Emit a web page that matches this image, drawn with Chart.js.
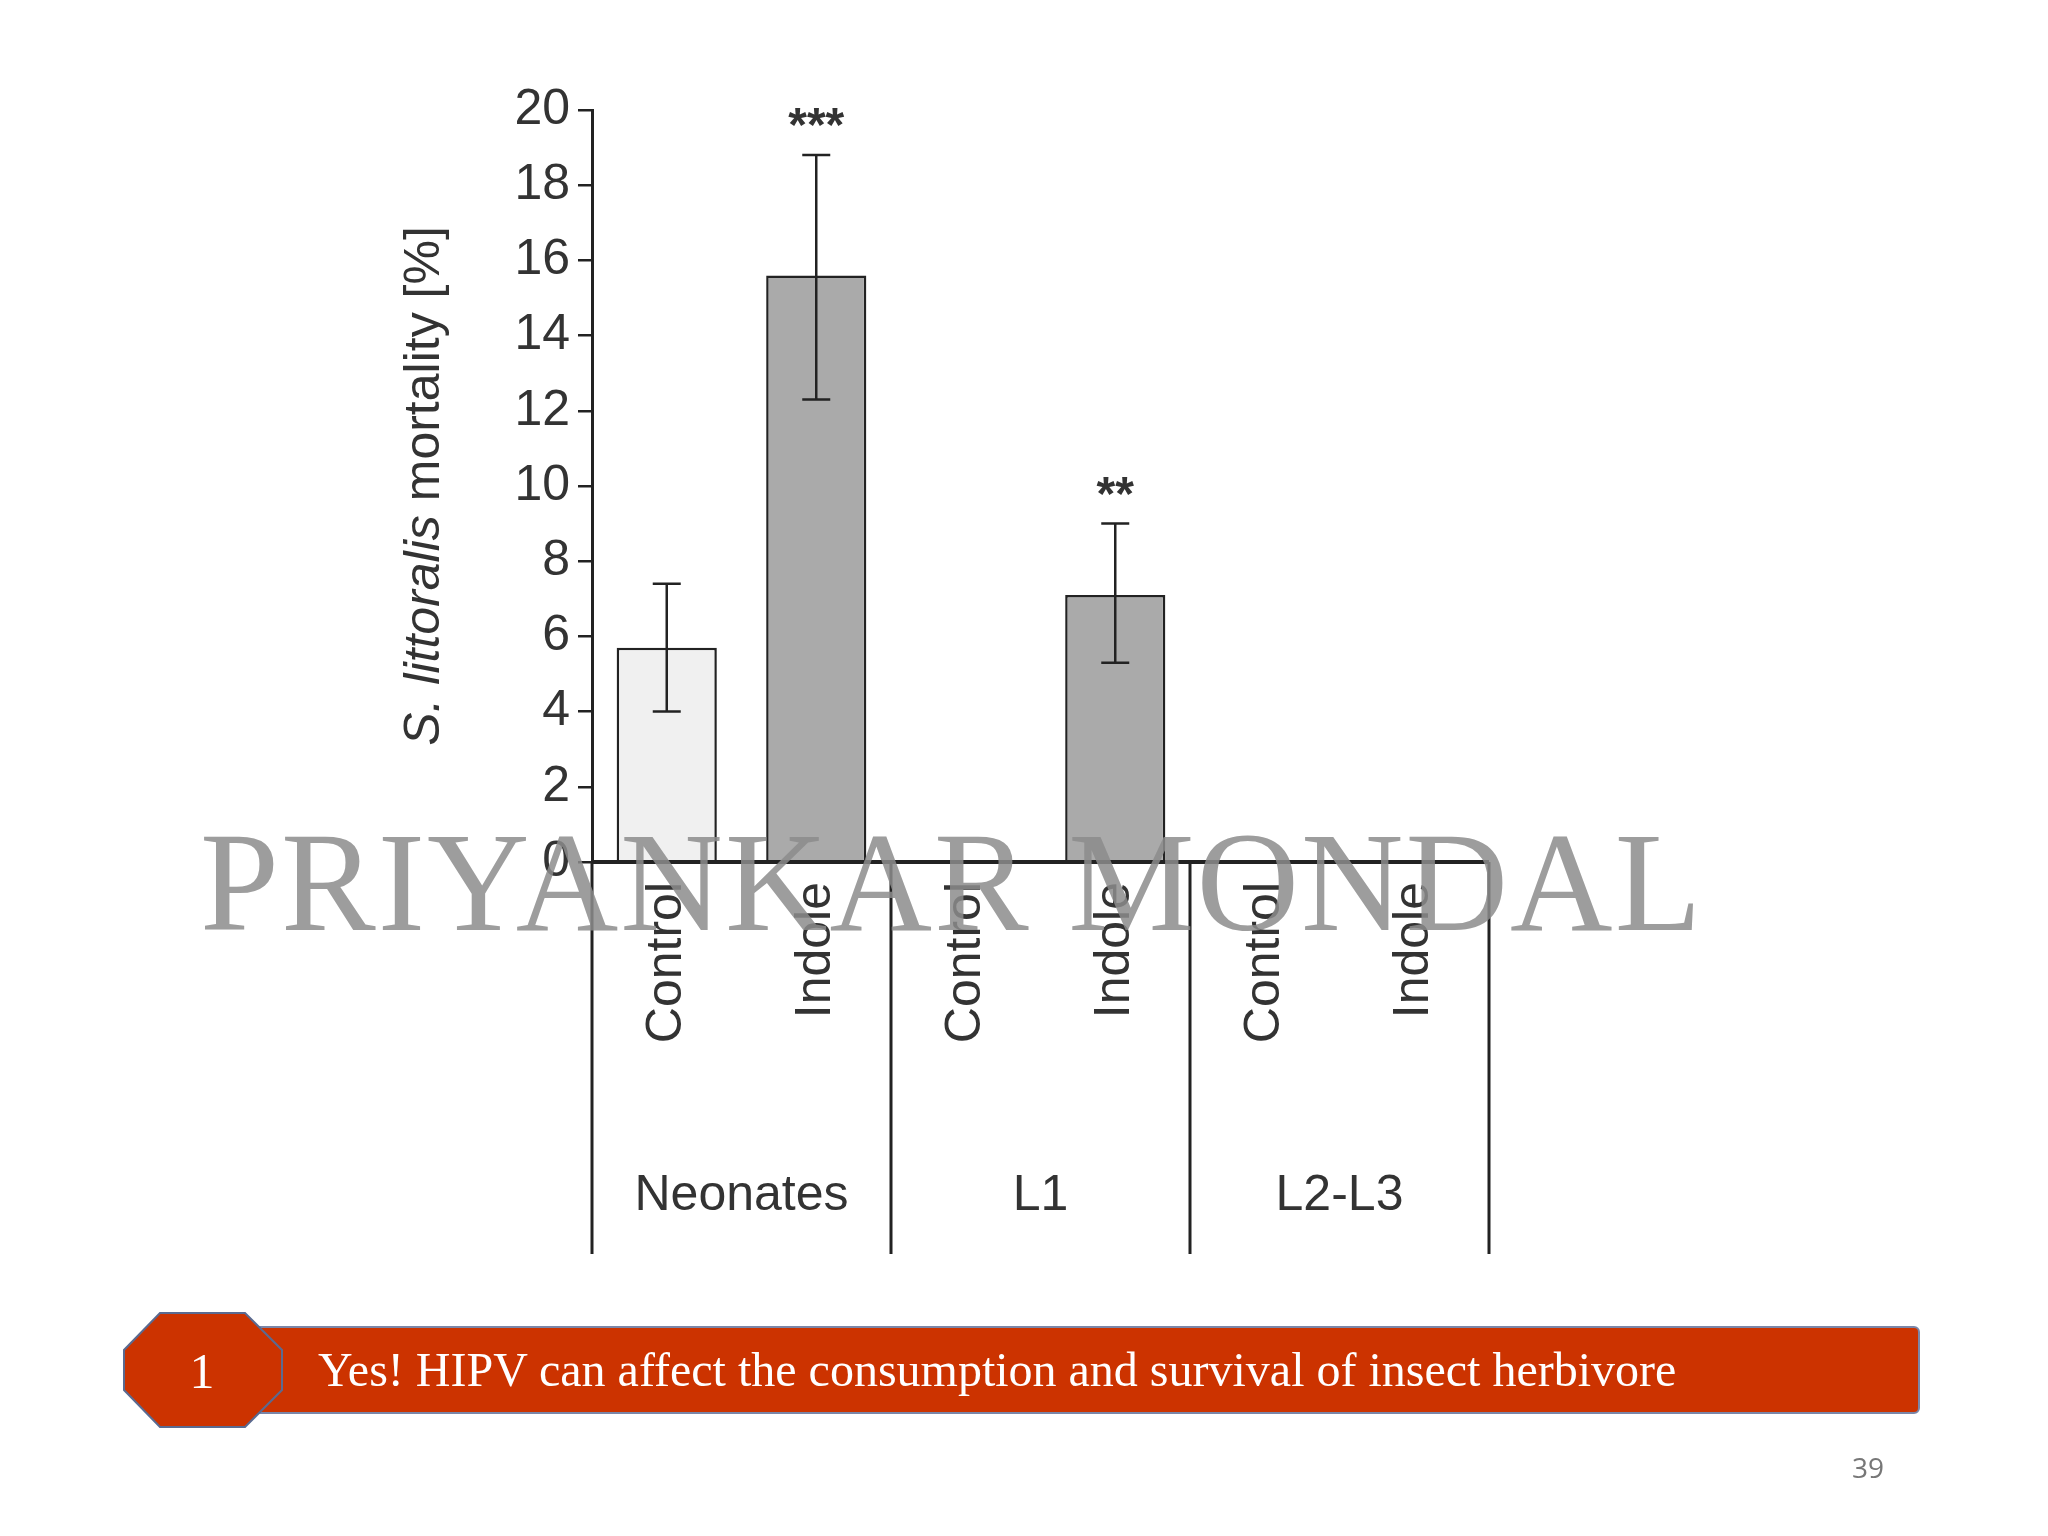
<!DOCTYPE html>
<html><head><meta charset="utf-8">
<script src="https://cdn.jsdelivr.net/npm/chart.js@4"></script>
<style>
html,body{margin:0;padding:0;background:#fff;width:2048px;height:1536px;overflow:hidden;position:relative}
#c{position:absolute;left:0;top:0}
.wm{position:absolute;left:200px;top:800px;font-family:"Liberation Serif",serif;font-size:142px;color:rgba(140,140,140,0.85);white-space:nowrap;letter-spacing:2px}
.bar{position:absolute;left:235px;top:1326px;width:1685px;height:88px;background:#cc3300;border:2px solid #7a86a8;border-radius:6px;box-sizing:border-box}
.bt{position:absolute;left:318px;top:1342px;color:#fff;font-family:"Liberation Serif",serif;font-size:48px;white-space:nowrap}
svg{position:absolute;left:0;top:0}
.pg{position:absolute;left:1852px;top:1448px;color:#777;font-family:"Open Sans",sans-serif;font-size:28px}
</style></head><body>
<canvas id="c" width="2048" height="1536"></canvas>
<div class="wm">PRIYANKAR MONDAL</div>
<div class="bar"></div>
<svg width="2048" height="1536"><polygon points="160,1313 245,1313 282,1350 282,1390 245,1427 160,1427 124,1390 124,1350" fill="#cc3300" stroke="#5a6a90" stroke-width="2"/><text x="202" y="1388" fill="#fff" font-family="Liberation Serif" font-size="50" text-anchor="middle">1</text></svg>
<div class="bt">Yes! HIPV can affect the consumption and survival of insect herbivore</div>
<div class="pg">39</div>
<script>
const categories=["Control","Indole","Control","Indole","Control","Indole"];
const groups=["Neonates","L1","L2-L3"];
const mortality=[5.7,15.6,0,7.1,0,0];
const errLow=[4.0,12.3,0,5.3,0,0];
const errHigh=[7.4,18.8,0,9.0,0,0];
const stars=["","***","","**","",""];
const yTicks=[0,2,4,6,8,10,12,14,16,18,20];
const colors=["#f0f0f0","#aaaaaa","#f0f0f0","#aaaaaa","#f0f0f0","#aaaaaa"];
const TXT="#333";
const plugin={id:"extra",afterDatasetsDraw(ch){
 const c=ch.ctx,x=ch.scales.x,y=ch.scales.y;
 c.save();c.strokeStyle="#222";c.lineWidth=2.5;
 mortality.forEach((v,i)=>{if(errHigh[i]<=0)return;const px=x.getPixelForValue(i);
  const a=y.getPixelForValue(errLow[i]),b=y.getPixelForValue(errHigh[i]);
  c.beginPath();c.moveTo(px,a);c.lineTo(px,b);c.moveTo(px-14,a);c.lineTo(px+14,a);c.moveTo(px-14,b);c.lineTo(px+14,b);c.stroke();
  if(stars[i]){c.fillStyle=TXT;c.font="bold 48px 'Liberation Sans'";c.textAlign="center";c.fillText(stars[i],px,b-14);}
 });
 // axis zero line
 const y0=y.getPixelForValue(0);c.lineWidth=4;c.beginPath();c.moveTo(x.left,y0);c.lineTo(x.right,y0);c.stroke();
 // group separators
 c.lineWidth=3;const w=(x.right-x.left)/3;
 for(let g=0;g<=3;g++){const gx=x.left+g*w;c.beginPath();c.moveTo(gx,y0);c.lineTo(gx,1254);c.stroke();}
 c.fillStyle=TXT;c.font="50px 'Liberation Sans'";c.textAlign="center";c.textBaseline="middle";
 groups.forEach((g,i)=>c.fillText(g,x.left+(i+0.5)*w,1196));
 categories.forEach((t,i)=>{const px=x.getPixelForValue(i);c.save();c.translate(px,y0+20);c.rotate(-Math.PI/2);c.textAlign="right";c.fillText(t,0,0);c.restore();});
 // y title
 c.save();c.translate(425,486);c.rotate(-Math.PI/2);c.textAlign="left";c.textBaseline="middle";
 const p1="S. littoralis",p2=" mortality [%]";
 c.font="italic 50px 'Liberation Sans'";const w1=c.measureText(p1).width;c.font="50px 'Liberation Sans'";const w2=c.measureText(p2).width;
 let sx=-(w1+w2)/2;c.font="italic 50px 'Liberation Sans'";c.fillText(p1,sx,0);c.font="50px 'Liberation Sans'";c.fillText(p2,sx+w1,0);c.restore();
 c.restore();}};
new Chart(document.getElementById("c"),{type:"bar",
 data:{labels:categories,datasets:[{data:mortality,backgroundColor:colors,borderColor:"#222",borderWidth:2.5,borderSkipped:"bottom",categoryPercentage:1,barPercentage:0.67}]},
 options:{responsive:false,animation:false,devicePixelRatio:1,
  layout:{padding:{left:440,right:559,top:110,bottom:274}},
  plugins:{legend:{display:false},tooltip:{enabled:false}},
  scales:{
   x:{grid:{display:false},border:{display:false},ticks:{display:false},afterFit(s){s.height=400;}},
   y:{min:0,max:20,afterBuildTicks(s){s.ticks=yTicks.map(v=>({value:v}));},
    afterFit(s){s.width=152;},
    grid:{display:true,drawOnChartArea:false,drawTicks:true,tickLength:14,color:"#222",lineWidth:2.5},
    border:{display:true,color:"#222",width:3},
    ticks:{color:TXT,font:{size:50,family:"Liberation Sans"},padding:8}}}},
 plugins:[plugin]});
</script></body></html>
